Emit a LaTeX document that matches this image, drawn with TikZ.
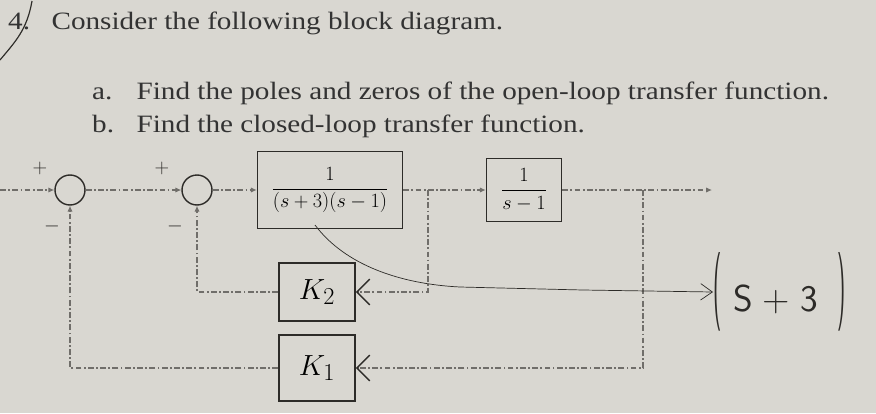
\documentclass[tikz,border=0pt]{standalone}
\usepackage{fontspec}
\setmainfont{Liberation Serif}[FakeStretch=1.17]
\usepackage{xcolor}
\usepackage{graphicx}
\usepackage{tikz}
\usetikzlibrary{arrows.meta}
\usetikzlibrary{positioning}
\definecolor{Paper}{RGB}{217,215,209}
\definecolor{Print}{RGB}{112,110,106}
\definecolor{Ink}{RGB}{45,43,40}
\tikzset{
  Block/.style={
    rectangle, draw=Ink, line width=1.3pt, inner sep=0pt,
  },
  Summer/.style={
    circle, draw=Ink, line width=1.2pt, minimum size=0.9cm, inner sep=0pt,
  },
  Signal/.style={
    draw=Print, line width=0.9pt, dash pattern=on 5pt off 2pt on 1.5pt off 2pt,
  },
  Tip/.style={-{Latex[length=5pt,width=4.5pt]}},
  Chev/.style={-{Straight Barb[length=11pt,width=22pt,line width=1.3pt,color=Ink]}},
  Sign/.style={font=\fontsize{17}{17}\selectfont, inner sep=0pt, text=Ink},
  Task/.style={anchor=base west, inner sep=0pt, text=black!80, font=\fontsize{21.3}{24}\selectfont},
}

\begin{document}
\begin{tikzpicture}[x=0.03cm, y=-0.03cm]
\fill[Paper] (0,0) rectangle (876,413);
\useasboundingbox (0,0) rectangle (876,413);
% question
\node[Task] (Q) at (8,29) {\makebox[1.3cm][l]{4.}Consider the following block diagram.};
\node[Task] (QA) at (92,99) {\makebox[1.33cm][l]{a.}Find the poles and zeros of the open-loop transfer function.};
\node[Task] (QB) at (92,132) {\makebox[1.33cm][l]{b.}Find the closed-loop transfer function.};
\draw[Ink, line width=1pt] (32,1) .. controls (27,30) and (15,42) .. (0,60);
% blocks
\node[Summer] (S1) at (70,190) {};
\node[Summer] (S2) at (197,190) {};
\node[Block, minimum width=4.35cm, minimum height=2.31cm] (G1) at (330,190) {\fontsize{16}{18}\selectfont $\displaystyle\frac{1}{(s+3)(s-1)}$};
\node[Block, minimum width=2.25cm, minimum height=1.89cm] (G2) at (524,190) {\fontsize{16}{18}\selectfont $\displaystyle\frac{1}{s-1}$};
\node[Block, minimum width=2.28cm, minimum height=1.74cm] (K2) at (317,292) {\fontsize{28}{30}\selectfont $K_2$};
\node[Block, minimum width=2.28cm, minimum height=1.98cm] (K1) at (317,368) {\fontsize{28}{30}\selectfont $K_1$};
\node[Sign] (P1) at (40,168) {$+$};
\node[Sign] (M1) at (52,226) {$-$};
\node[Sign] (P2) at (162,168) {$+$};
\node[Sign] (M2) at (175,226) {$-$};
\coordinate (In) at (0,190);
\coordinate (Out) at (712,190);
\coordinate (B1) at (428,190);
\coordinate (B2) at (643,190);
% signals
\draw[Signal,Tip] (In) -- (S1);
\draw[Signal,Tip] (S1) -- (S2);
\draw[Signal,Tip] (S2) -- (G1);
\draw[Signal,Tip] (G1) -- (G2);
\draw[Signal,Tip] (G2) -- (Out);
\draw[Signal,Chev] (B1) |- (K2);
\draw[Signal,Chev] (B2) |- (K1);
\draw[Signal,Tip] (K2) -| (S2);
\draw[Signal,Tip] (K1) -| (S1);
% pen note
\coordinate (Mark) at (315,225);
\node[inner sep=0pt, anchor=west, text=Ink, font=\fontsize{32}{32}\selectfont\sffamily] (Note) at (713,292) {\scalebox{0.6}[2.1]{(}\hspace{0.35cm}S\hspace{0.3cm}+\hspace{0.3cm}3\hspace{0.6cm}\scalebox{0.6}[2.1]{)}};
\draw[Ink, line width=0.6pt, -{Straight Barb[length=10pt,width=14pt,line width=0.6pt]}] (Mark) .. controls (345,265) and (400,284) .. (460,287) -- (583,290) -- (Note.west);
\end{tikzpicture}
\end{document}
